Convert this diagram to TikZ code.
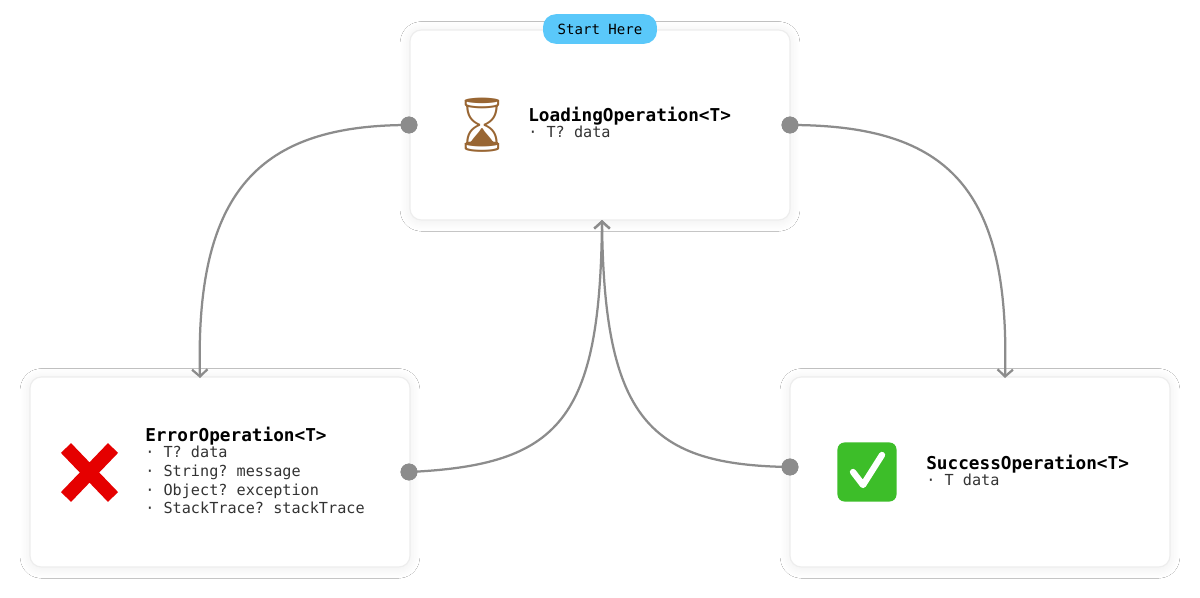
\documentclass[tikz,border=0pt]{standalone}
\usepackage{fontspec}
\setmonofont{DejaVu Sans Mono}
\newfontfamily\emo{Noto Emoji}
\usetikzlibrary{shadows.blur,arrows.meta}
\definecolor{badgeblue}{HTML}{5AC8FA}
\definecolor{okgreen}{HTML}{3DBE29}
\begin{document}
\begin{tikzpicture}[x=0.025cm,y=-0.025cm,
  card/.style={draw=black!7,line width=0.8pt,fill=white,rounded corners=8pt,blur shadow={shadow blur steps=25,shadow xshift=0pt,shadow yshift=-1pt,shadow blur radius=7pt,shadow opacity=7,shadow scale=1}},
  dotn/.style={circle,fill=black!45,inner sep=0pt,minimum size=12pt},
  conn/.style={draw=black!45,line width=1.6pt},
  arr/.style={conn,-{Straight Barb[length=5pt,width=11pt,line width=1.6pt]}},
  title/.style={font=\ttfamily\bfseries\fontsize{12.6pt}{15pt}\selectfont,anchor=west,inner sep=0pt},
  body/.style={font=\ttfamily\fontsize{10.8pt}{13.3pt}\selectfont,anchor=north west,inner sep=0pt,align=left,text=black!80}]
\useasboundingbox (0,0) rectangle (1200,597);
\fill[white] (0,0) rectangle (1200,597);
\draw[card] (410,30) rectangle (790,220);
\draw[card] (30,377) rectangle (410,567);
\draw[card] (790,377) rectangle (1170,567);
\node[fill=badgeblue,rounded corners=9pt,minimum width=81pt,minimum height=21pt,font=\ttfamily\fontsize{10pt}{12pt}\selectfont] (badge) at (600,29) {Start Here};
\node[title] (lt) at (528,116) {LoadingOperation<T>};
\node[body] (lb) at (528,126) {· T? data};
\node[title] (et) at (145,436) {ErrorOperation<T>};
\node[body] (eb) at (145,446) {· T? data\\· String? message\\· Object? exception\\· StackTrace? stackTrace};
\node[title] (st) at (926,464) {SuccessOperation<T>};
\node[body] (sb) at (926,474) {· T data};
\node[text=brown!80!black,font=\emo\fontsize{38pt}{40pt}\selectfont] (hg) at (482,125) {⌛};
\draw[red!90!black,line width=10pt] (66,448) -- (113,497) (113,448) -- (66,497);
\node[fill=okgreen,rounded corners=5pt,minimum size=42pt] (ok) at (867,472) {};
\draw[white,line width=4.5pt,line cap=round,line join=round] (853,472) -- (863,485) -- (882,455);
\node[dotn] (d1) at (409,125) {};
\node[dotn] (d2) at (790,125) {};
\node[dotn] (d3) at (409,472) {};
\node[dotn] (d4) at (790,467) {};
\coordinate (eTop) at (200,378);
\coordinate (sTop) at (1005,378);
\coordinate (lBot) at (602,220);
\draw[arr] (d1.center) .. controls (260,125) and (195,190) .. (eTop);
\draw[arr] (d2.center) .. controls (950,125) and (1010,190) .. (sTop);
\draw[arr] (d3.center) .. controls (560,465) and (600,420) .. (lBot);
\draw[arr] (d4.center) .. controls (650,465) and (604,420) .. (lBot);
\node[dotn] at (d1) {};
\node[dotn] at (d2) {};
\node[dotn] at (d3) {};
\node[dotn] at (d4) {};
\end{tikzpicture}
\end{document}
